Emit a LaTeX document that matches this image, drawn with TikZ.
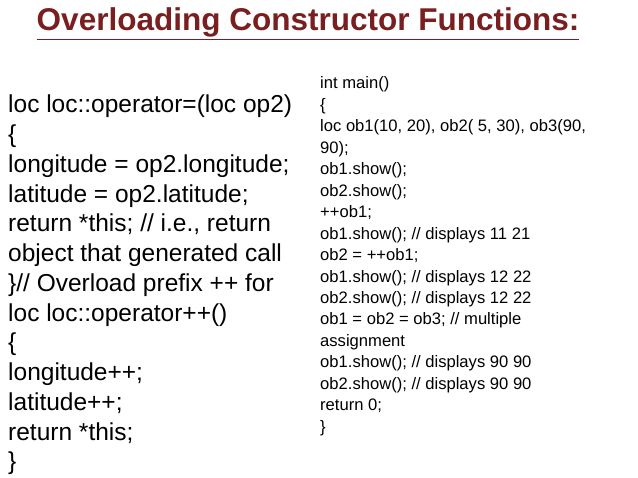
\documentclass[tikz,border=0pt]{standalone}
\usepackage{fontspec}
\setmainfont{Liberation Sans}
\definecolor{titlered}{HTML}{7A1F1F}
\begin{document}
\begin{tikzpicture}[x=1pt,y=-1pt,
  leftline/.style={anchor=base west,inner sep=0pt,font=\fontsize{24.5}{27}\selectfont},
  rightline/.style={anchor=base west,inner sep=0pt,font=\fontsize{16.6}{19}\selectfont}]
\useasboundingbox[fill=white] (0,0) rectangle (638,478);
\node[anchor=base,inner sep=0pt,text=titlered,font=\fontsize{31.5}{34}\selectfont\bfseries] (title) at (308,31)
  {\underline{Overloading Constructor Functions:}};
\foreach \t [count=\i from 0] in {
  {loc loc::operator=(loc op2)},{\{},{longitude = op2.longitude;},{latitude = op2.latitude;},
  {return *this; // i.e., return},{object that generated call},{\}// Overload prefix ++ for},
  {loc loc::operator++()},{\{},{longitude++;},{latitude++;},{return *this;},{\}}}
  \node[leftline] (L\i) at (8,{113+29.75*\i}) {\t};
\foreach \t [count=\i from 0] in {
  {int main()},{\{},{loc ob1(10, 20), ob2( 5, 30), ob3(90,},{90);},{ob1.show();},{ob2.show();},
  {++ob1;},{ob1.show(); // displays 11 21},{ob2 = ++ob1;},{ob1.show(); // displays 12 22},
  {ob2.show(); // displays 12 22},{ob1 = ob2 = ob3; // multiple},{assignment},
  {ob1.show(); // displays 90 90},{ob2.show(); // displays 90 90},{return 0;},{\}}}
  \node[rightline] (R\i) at (320,{89+21.45*\i}) {\t};
\end{tikzpicture}
\end{document}
